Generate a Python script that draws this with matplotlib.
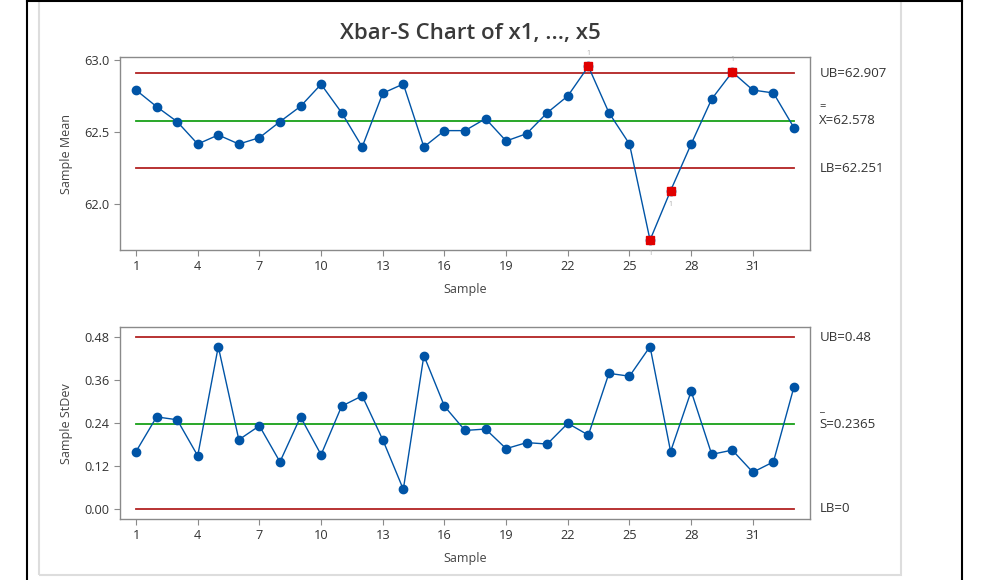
import matplotlib
matplotlib.use('Agg')
import matplotlib.pyplot as plt
from matplotlib.lines import Line2D
from matplotlib.patches import Rectangle
import numpy as np

plt.rcParams['font.family'] = ['Open Sans', 'DejaVu Sans']

# --- DATA ---
samples = np.arange(1, 34)
xbar = [62.791, 62.676, 62.572, 62.417, 62.480, 62.417, 62.461, 62.572, 62.678, 62.831,
        62.634, 62.397, 62.769, 62.833, 62.397, 62.510, 62.510, 62.593, 62.438, 62.489,
        62.634, 62.750, 62.955, 62.634, 62.417, 61.752, 62.094, 62.417, 62.729, 62.916,
        62.791, 62.771, 62.530]
sdev = [0.160, 0.257, 0.249, 0.148, 0.454, 0.193, 0.232, 0.131, 0.257, 0.151,
        0.287, 0.316, 0.193, 0.054, 0.429, 0.287, 0.219, 0.223, 0.168, 0.185,
        0.181, 0.239, 0.206, 0.379, 0.371, 0.454, 0.160, 0.329, 0.152, 0.164,
        0.102, 0.131, 0.341]
xbar_ucl, xbar_cl, xbar_lcl = 62.907, 62.578, 62.251
s_ucl, s_cl, s_lcl = 0.48, 0.2365, 0.0
flagged = [23, 26, 27, 30]   # test 1 failures on Xbar chart
xticks = [1, 4, 7, 10, 13, 16, 19, 22, 25, 28, 31]

BLUE = '#0054A6'
RED_LINE = '#B22222'
GREEN = '#18A018'
RED_PT = '#E00000'
TXT = '#333333'

fig = plt.figure(figsize=(9.98, 5.8), dpi=100)

# outer frame + light gray panel
fig.add_artist(Line2D([27/998, 27/998], [0, 1], color='black', lw=1.5, transform=fig.transFigure))
fig.add_artist(Line2D([962/998, 962/998], [0, 1], color='black', lw=1.5, transform=fig.transFigure))
fig.add_artist(Line2D([27/998, 962/998], [0.999, 0.999], color='black', lw=1.5, transform=fig.transFigure))
fig.add_artist(Rectangle((39/998, 1 - 575/580), (901 - 39)/998, 575/580 + 0.01, fill=False,
                         ec='#dddddd', lw=1.5, transform=fig.transFigure))

ax1 = fig.add_axes([120/998, 1 - 250/580, 690/998, 193/580])
ax2 = fig.add_axes([120/998, 1 - 519/580, 690/998, 191.7/580])


def style(ax):
    for s in ax.spines.values():
        s.set_color('#8a8a8a')
        s.set_linewidth(1.0)
    ax.tick_params(axis='both', colors='#8a8a8a', labelcolor=TXT, labelsize=9.2, length=4, width=0.8)
    ax.set_xticks(xticks)
    ax.set_xlim(0.22, 33.78)
    ax.set_xlabel('Sample', fontsize=9, color='#444444', labelpad=7)


# --- Xbar chart ---
style(ax1)
ax1.plot(samples, xbar, color=BLUE, lw=1.0, marker='o', ms=6, mfc=BLUE, mec=BLUE, zorder=3)
fx = [s for s in flagged]
fy = [xbar[s - 1] for s in flagged]
ax1.plot(fx, fy, ls='none', marker='s', ms=6, mfc=RED_PT, mec=RED_PT, zorder=4)
for y, c in [(xbar_ucl, RED_LINE), (xbar_cl, GREEN), (xbar_lcl, RED_LINE)]:
    ax1.plot([1, 33], [y, y], color=c, lw=1.3, zorder=2)
ax1.set_ylim(61.683, 63.020)
ax1.set_yticks([62.0, 62.5, 63.0])
ax1.set_yticklabels(['62.0', '62.5', '63.0'])
ax1.set_ylabel('Sample Mean', fontsize=9, color='#444444', labelpad=8)
for s in flagged:
    v = xbar[s - 1]
    above = v > xbar_cl
    ax1.annotate('1', (s, v), xytext=(0, 9 if above else -10), textcoords='offset points',
                 ha='center', va='center', fontsize=5, color='#aaaaaa', annotation_clip=False)

ax1.text(1.0135, xbar_ucl, 'UB=62.907', transform=ax1.get_yaxis_transform(), va='center', fontsize=9.5, color=TXT)
ax1.text(1.0135, xbar_cl + 0.1, '=', transform=ax1.get_yaxis_transform(), va='center', fontsize=8, color=TXT)
ax1.text(1.0135, xbar_cl, 'X=62.578', transform=ax1.get_yaxis_transform(), va='center', fontsize=9.5, color=TXT)
ax1.text(1.0135, xbar_lcl, 'LB=62.251', transform=ax1.get_yaxis_transform(), va='center', fontsize=9.5, color=TXT)

# --- S chart ---
style(ax2)
ax2.plot(samples, sdev, color=BLUE, lw=1.0, marker='o', ms=6, mfc=BLUE, mec=BLUE, zorder=3)
for y, c in [(s_ucl, RED_LINE), (s_cl, GREEN), (s_lcl, RED_LINE)]:
    ax2.plot([1, 33], [y, y], color=c, lw=1.3, zorder=2)
ax2.set_ylim(-0.029, 0.508)
ax2.set_yticks([0.0, 0.12, 0.24, 0.36, 0.48])
ax2.set_yticklabels(['0.00', '0.12', '0.24', '0.36', '0.48'])
ax2.set_ylabel('Sample StDev', fontsize=9, color='#444444', labelpad=8)

ax2.text(1.0135, s_ucl, 'UB=0.48', transform=ax2.get_yaxis_transform(), va='center', fontsize=9.5, color=TXT)
ax2.text(1.0135, s_cl + 0.045, '_', transform=ax2.get_yaxis_transform(), va='center', fontsize=8, color=TXT)
ax2.text(1.0135, s_cl, 'S=0.2365', transform=ax2.get_yaxis_transform(), va='center', fontsize=9.5, color=TXT)
ax2.text(1.0135, s_lcl, 'LB=0', transform=ax2.get_yaxis_transform(), va='center', fontsize=9.5, color=TXT)

fig.text(470/998, 1 - 33/580, 'Xbar-S Chart of x1, ..., x5', ha='center', va='center',
         fontsize=16, fontweight='semibold', color='#3a3a3a')

fig.savefig('out.png', dpi=100)
